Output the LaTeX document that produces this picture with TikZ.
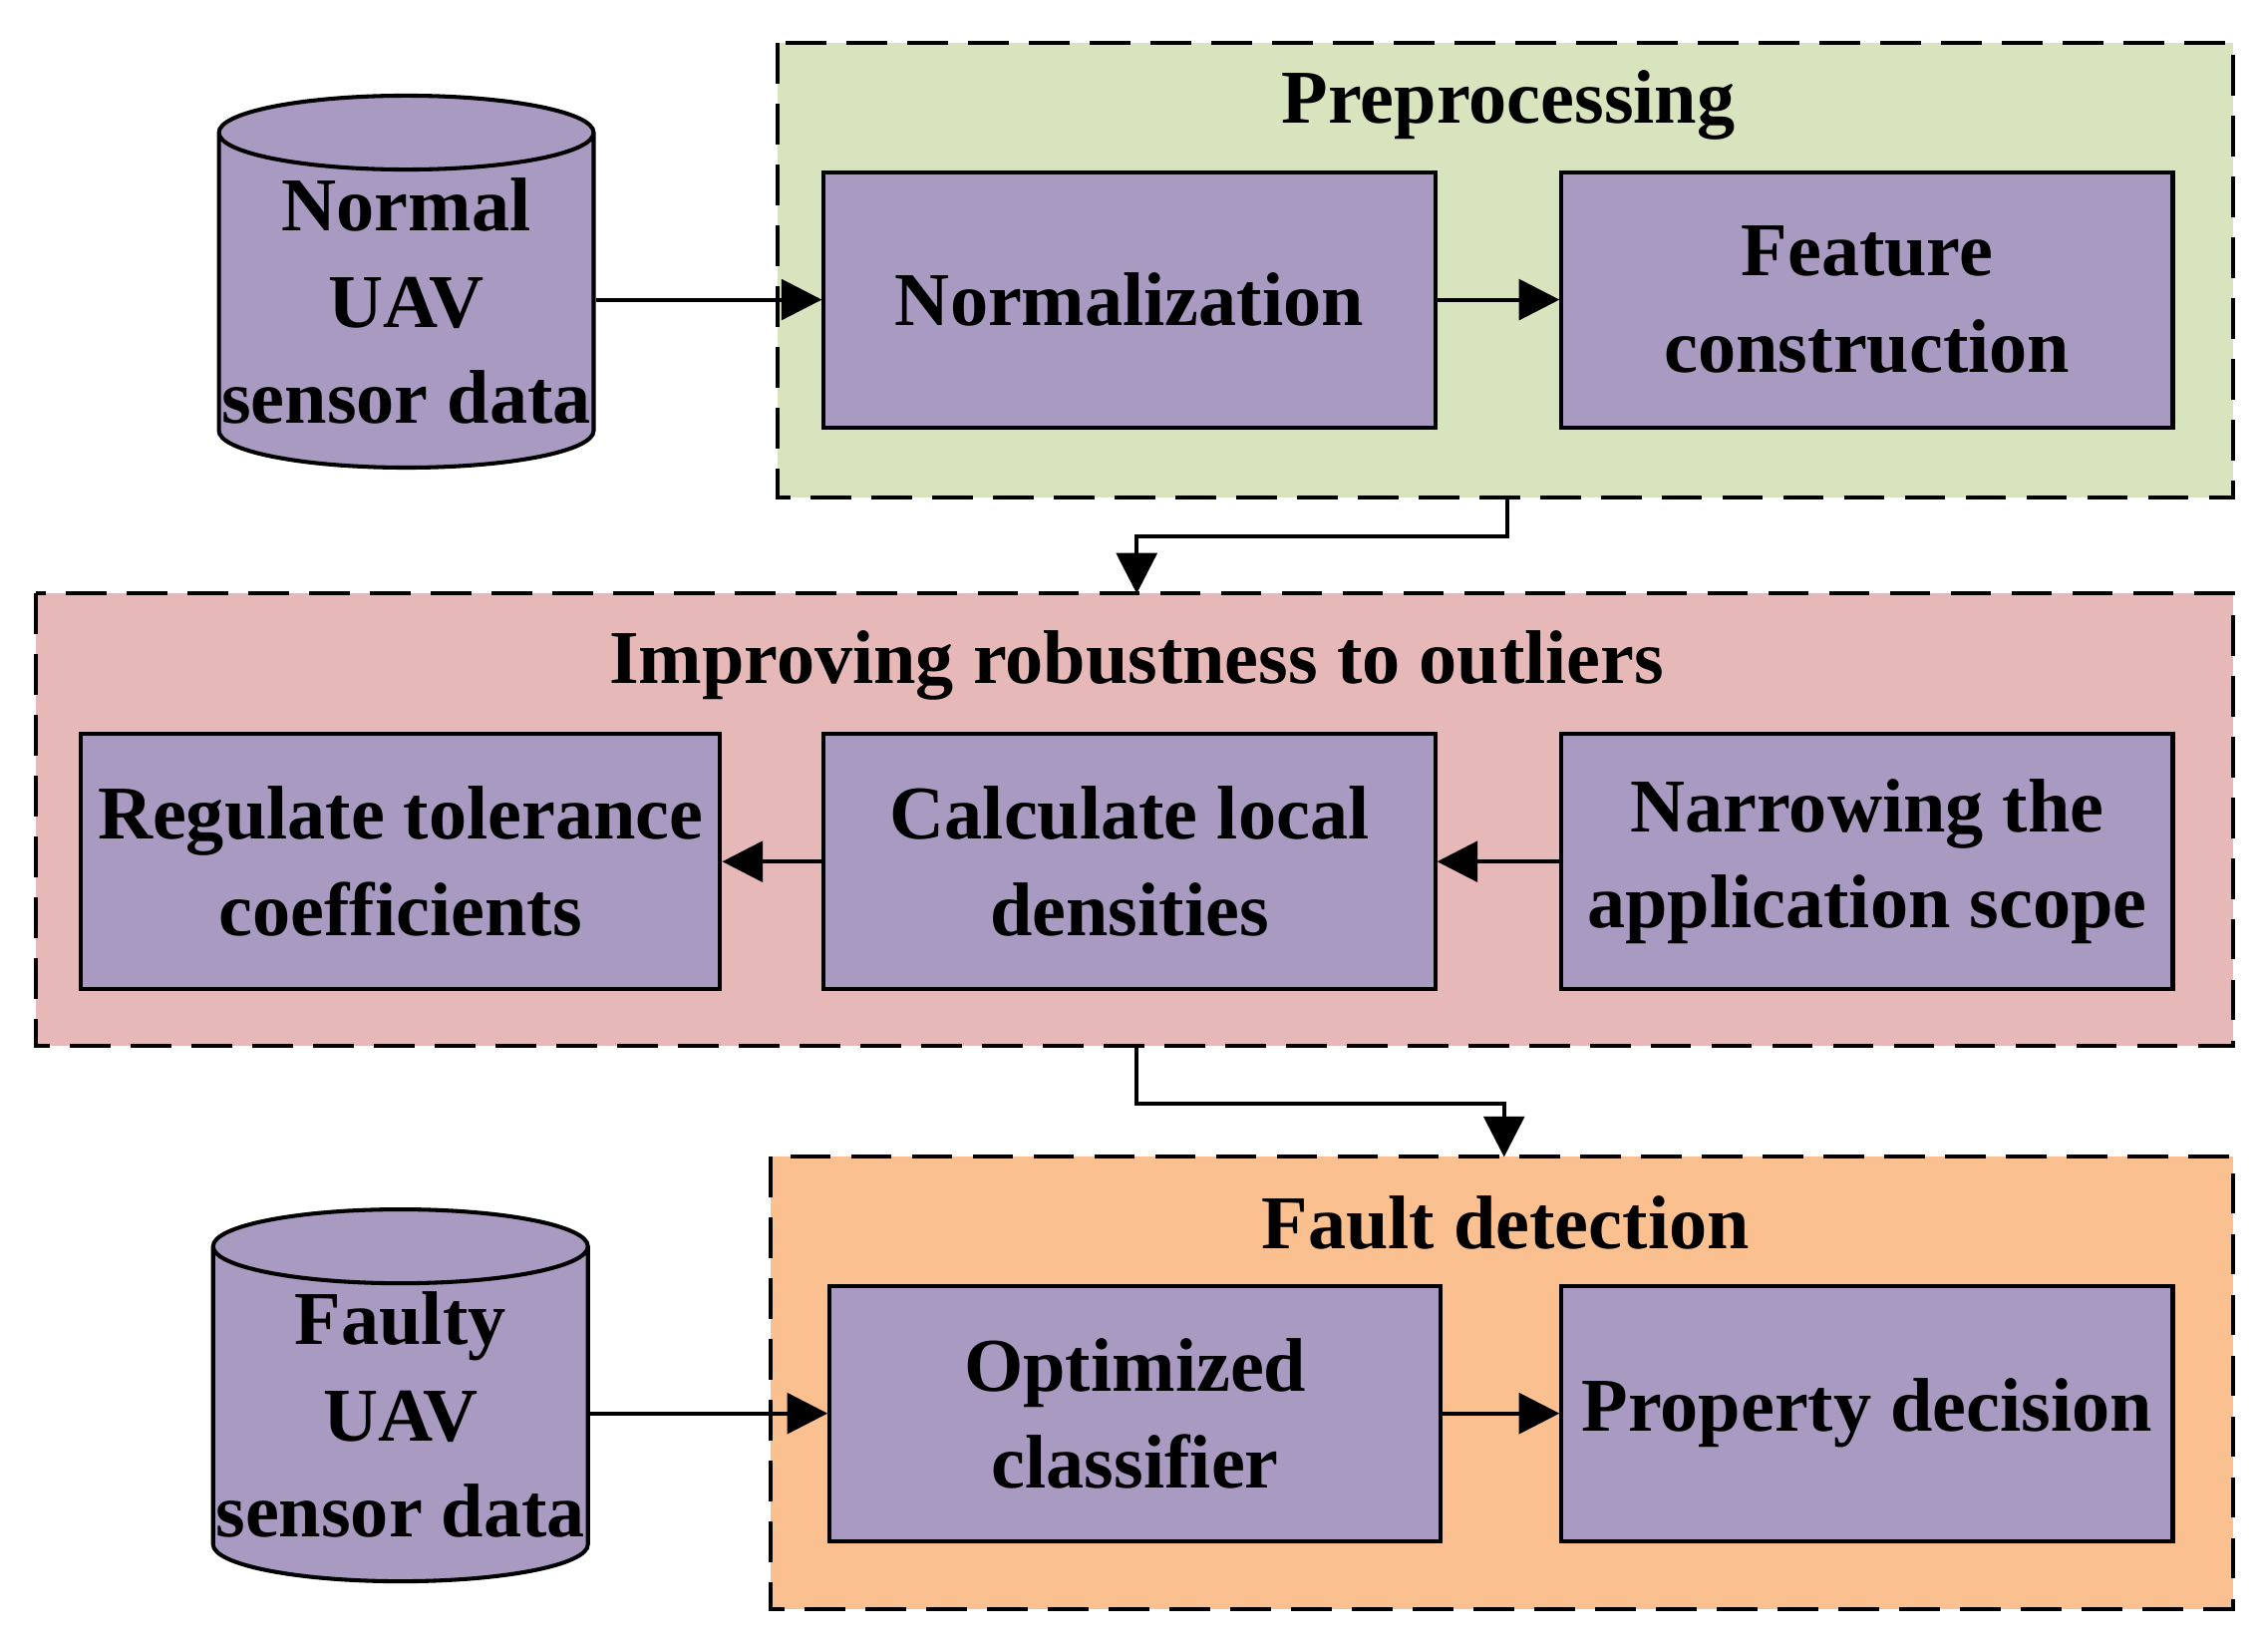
\documentclass[tikz,border=0pt]{standalone}
\usepackage{fontspec}
\setmainfont{Liberation Serif}
\usetikzlibrary{shapes.geometric,arrows.meta}
\definecolor{gbg}{HTML}{D7E4BD}
\definecolor{rbg}{HTML}{E6B9B8}
\definecolor{obg}{HTML}{FAC090}
\definecolor{pur}{HTML}{A99AC2}
\begin{document}
\begin{tikzpicture}[x=0.01cm,y=-0.01cm,
  grp/.style={draw,thick,dashed,dash pattern=on 8pt off 4pt,inner sep=0},
  box/.style={draw,thick,fill=pur,minimum width=4.24cm,minimum height=1.77cm,align=center,font=\fontsize{15}{19}\selectfont\bfseries},
  ttl/.style={font=\fontsize{15}{19}\selectfont\bfseries},
  cyl/.style={draw,thick,fill=pur,cylinder,shape border rotate=90,aspect=0.2,minimum width=2.6cm,minimum height=2.58cm,align=center,font=\fontsize{15}{19}\selectfont\bfseries,inner sep=0},
  arr/.style={thick,-{Triangle[length=8pt,width=8pt]}}]
\useasboundingbox (0,0) rectangle (1568,1146);
\fill[white] (0,0) rectangle (1568,1146);
\draw[grp,fill=gbg] (540,30) rectangle (1550,345);
\draw[grp,fill=rbg] (25,412) rectangle (1550,726);
\draw[grp,fill=obg] (535,803) rectangle (1550,1117);
\coordinate (pb) at (1046,345); \coordinate (rt) at (789,412);
\coordinate (rb) at (789,726); \coordinate (ft) at (1044,803);
\node[ttl] at (1047,73) {Preprocessing};
\node[ttl] at (789,462) {Improving robustness to outliers};
\node[ttl] at (1045,849) {Fault detection};
\node[box] (norm) at (784,208) {Normalization};
\node[box] (feat) at (1296,208) {Feature\\construction};
\node[box] (reg) at (278,598) {Regulate tolerance\\coefficients};
\node[box] (calc) at (784,598) {Calculate local\\densities};
\node[box] (nar) at (1296,598) {Narrowing the\\application scope};
\node[box] (opt) at (788,981) {Optimized\\classifier};
\node[box] (prop) at (1296,981) {Property decision};
\node[cyl] (c1) at (282,209) {Normal\\UAV\\sensor data};
\node[cyl] (c2) at (278,982) {Faulty\\UAV\\sensor data};
\draw[arr] (c1.east |- norm) -- (norm.west);
\draw[arr] (norm) -- (feat);
\draw[arr] (nar) -- (calc);
\draw[arr] (calc) -- (reg);
\draw[arr] (c2.east |- opt) -- (opt.west);
\draw[arr] (opt) -- (prop);
\draw[arr] (pb) -- ++(0,27) -| (rt);
\draw[arr] (rb) -- ++(0,40) -| (ft);
\end{tikzpicture}
\end{document}
